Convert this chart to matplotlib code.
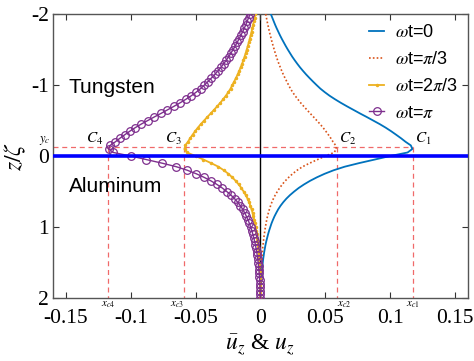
import numpy as np
import matplotlib
matplotlib.use("Agg")
import matplotlib.pyplot as plt

plt.rcParams['mathtext.fontset'] = 'stix'
plt.rcParams['font.family'] = ['Liberation Serif', 'DejaVu Serif']

# depth grid z/zeta
z = np.arange(-2.0, 2.0001, 0.05)

u_wt0 = [
    0.0080, 0.0091, 0.0102, 0.0113, 0.0125, 0.0138, 0.0151, 0.0165, 0.0180, 0.0195,
    0.0211, 0.0228, 0.0245, 0.0264, 0.0284, 0.0305, 0.0328, 0.0352, 0.0378, 0.0405,
    0.0433, 0.0462, 0.0496, 0.0533, 0.0575, 0.0620, 0.0668, 0.0718, 0.0768, 0.0820,
    0.0870, 0.0920, 0.0966, 0.1008, 0.1047, 0.1085, 0.1120, 0.1160, 0.1172, 0.1135,
    0.1000, 0.0880, 0.0760, 0.0650, 0.0565, 0.0495, 0.0435, 0.0382, 0.0336, 0.0295,
    0.0260, 0.0228, 0.0200, 0.0176, 0.0155, 0.0137, 0.0122, 0.0108, 0.0096, 0.0085,
    0.0076, 0.0067, 0.0059, 0.0052, 0.0045, 0.0039, 0.0034, 0.0029, 0.0025, 0.0021,
    0.0018, 0.0015, 0.0012, 0.0010, 0.0008, 0.0006, 0.0004, 0.0003, 0.0002, 0.0001,
    0.0000]

u_wt_pi3 = [
    0.0040, 0.0046, 0.0051, 0.0057, 0.0063, 0.0069, 0.0076, 0.0083, 0.0090, 0.0098,
    0.0106, 0.0114, 0.0123, 0.0132, 0.0142, 0.0153, 0.0164, 0.0176, 0.0189, 0.0203,
    0.0217, 0.0231, 0.0248, 0.0267, 0.0288, 0.0310, 0.0334, 0.0359, 0.0384, 0.0410,
    0.0435, 0.0460, 0.0483, 0.0504, 0.0524, 0.0543, 0.0560, 0.0580, 0.0586, 0.0568,
    0.0500, 0.0440, 0.0380, 0.0325, 0.0283, 0.0248, 0.0218, 0.0191, 0.0168, 0.0148,
    0.0130, 0.0114, 0.0100, 0.0088, 0.0078, 0.0069, 0.0061, 0.0054, 0.0048, 0.0043,
    0.0038, 0.0034, 0.0030, 0.0026, 0.0023, 0.0020, 0.0017, 0.0015, 0.0013, 0.0011,
    0.0009, 0.0008, 0.0006, 0.0005, 0.0004, 0.0003, 0.0002, 0.0002, 0.0001, 0.0001,
    0.0000]

u_wt_2pi3 = [
    -0.0040, -0.0046, -0.0051, -0.0057, -0.0063, -0.0069, -0.0076, -0.0083, -0.0090, -0.0098,
    -0.0106, -0.0114, -0.0123, -0.0132, -0.0142, -0.0153, -0.0164, -0.0176, -0.0189, -0.0203,
    -0.0217, -0.0231, -0.0248, -0.0267, -0.0288, -0.0310, -0.0334, -0.0359, -0.0384, -0.0410,
    -0.0435, -0.0460, -0.0483, -0.0504, -0.0524, -0.0543, -0.0560, -0.0580, -0.0586, -0.0568,
    -0.0500, -0.0440, -0.0380, -0.0325, -0.0283, -0.0248, -0.0218, -0.0191, -0.0168, -0.0148,
    -0.0130, -0.0114, -0.0100, -0.0088, -0.0078, -0.0069, -0.0061, -0.0054, -0.0048, -0.0043,
    -0.0038, -0.0034, -0.0030, -0.0026, -0.0023, -0.0020, -0.0017, -0.0015, -0.0013, -0.0011,
    -0.0009, -0.0008, -0.0006, -0.0005, -0.0004, -0.0003, -0.0002, -0.0002, -0.0001, -0.0001,
    0.0000]

u_wt_pi = [
    -0.0080, -0.0091, -0.0102, -0.0113, -0.0125, -0.0138, -0.0151, -0.0165, -0.0180, -0.0195,
    -0.0211, -0.0228, -0.0245, -0.0264, -0.0284, -0.0305, -0.0328, -0.0352, -0.0378, -0.0405,
    -0.0433, -0.0462, -0.0496, -0.0533, -0.0575, -0.0620, -0.0668, -0.0718, -0.0768, -0.0820,
    -0.0870, -0.0920, -0.0966, -0.1008, -0.1047, -0.1085, -0.1120, -0.1160, -0.1172, -0.1135,
    -0.1000, -0.0880, -0.0760, -0.0650, -0.0565, -0.0495, -0.0435, -0.0382, -0.0336, -0.0295,
    -0.0260, -0.0228, -0.0200, -0.0176, -0.0155, -0.0137, -0.0122, -0.0108, -0.0096, -0.0085,
    -0.0076, -0.0067, -0.0059, -0.0052, -0.0045, -0.0039, -0.0034, -0.0029, -0.0025, -0.0021,
    -0.0018, -0.0015, -0.0012, -0.0010, -0.0008, -0.0006, -0.0004, -0.0003, -0.0002, -0.0001,
    0.0000]

series_labels = [r'$\omega$t=0', r'$\omega$t=$\pi$/3', r'$\omega$t=2$\pi$/3', r'$\omega$t=$\pi$']

# critical points
xc = [0.1175, 0.0587, -0.0587, -0.1175]
yc = -0.125
c_labels = [r'$C_1$', r'$C_2$', r'$C_3$', r'$C_4$']
xc_labels = [r'$x_{c1}$', r'$x_{c2}$', r'$x_{c3}$', r'$x_{c4}$']

xticks = [-0.15, -0.1, -0.05, 0, 0.05, 0.1, 0.15]
xticklabels = ['-0.15', '-0.1', '-0.05', '0', '0.05', '0.1', '0.15']
yticks = [-2, -1, 0, 1, 2]
yticklabels = ['-2', '-1', '0', '1', '2']

fig = plt.figure(figsize=(4.74, 3.61), dpi=100)
ax = fig.add_axes([0.112, 0.1745, 0.875, 0.7865])

xmin, xmax = -0.16, 0.16
ax.set_xlim(xmin, xmax)
ax.set_ylim(2, -2)

# reference lines
ax.axvline(0, color='black', lw=1.0, zorder=1)
dash_col = '#F06A6A'
ax.plot([xmin, xc[0]], [yc, yc], color=dash_col, lw=0.9, ls=(0, (4, 3)), zorder=1)
for x in xc:
    ax.plot([x, x], [yc, 2], color=dash_col, lw=0.9, ls=(0, (4, 3)), zorder=1)

ax.plot(u_wt0, z, color='#0072BD', lw=1.3, label=series_labels[0], zorder=3)
ax.plot(u_wt_pi3, z, color='#D95319', lw=1.2, ls=(0, (1, 1.3)), label=series_labels[1], zorder=3)
ax.plot(u_wt_2pi3, z, color='#EDB120', lw=1.3, marker='.', ms=3, label=series_labels[2], zorder=3)
ax.plot(u_wt_pi, z, color='#7E2F8E', lw=1.0, marker='o', ms=5.5, mfc='none', mew=0.9,
        label=series_labels[3], zorder=3)

ax.axhline(0, color='#0000FF', lw=2.6, zorder=4)

# labels of critical points
ax.text(xc[0] + 0.002, yc, c_labels[0], ha='left', va='bottom', fontsize=11)
ax.text(xc[1] + 0.002, yc, c_labels[1], ha='left', va='bottom', fontsize=11)
ax.text(xc[2] - 0.002, yc, c_labels[2], ha='right', va='bottom', fontsize=11)
ax.text(xc[3] - 0.004, yc, c_labels[3], ha='right', va='bottom', fontsize=11)
ax.text(xmin - 0.002, yc, r'$y_c$', ha='right', va='bottom', fontsize=9, clip_on=False)

ax.text(xc[0], 2.015, xc_labels[0], ha='center', va='top', fontsize=8, clip_on=False)
ax.text(xc[1], 2.015, xc_labels[1], ha='left', va='top', fontsize=8, clip_on=False)
ax.text(xc[2], 2.015, xc_labels[2], ha='right', va='top', fontsize=8, clip_on=False)
ax.text(xc[3], 2.015, xc_labels[3], ha='center', va='top', fontsize=8, clip_on=False)

ax.text(-0.148, -0.96, 'Tungsten', family='Liberation Sans', fontsize=15, ha='left', va='center')
ax.text(-0.148, 0.43, 'Aluminum', family='Liberation Sans', fontsize=15, ha='left', va='center')

ax.set_xticks(xticks)
ax.set_xticklabels(xticklabels)
ax.set_yticks(yticks)
ax.set_yticklabels(yticklabels)
ax.tick_params(direction='in', top=True, right=True, length=4, width=0.8,
               labelsize=15.5, colors='#333333', labelcolor='black', pad=3)
ax.tick_params(axis='x', pad=8)
for s in ax.spines.values():
    s.set_color('#555555')
    s.set_linewidth(1.0)

ax.set_xlabel(r'$\bar{u}_z$ & $u_z$', fontsize=17, labelpad=3)
ax.set_ylabel(r'$z/\zeta$', fontsize=17, labelpad=2)

leg = ax.legend(loc='upper right', bbox_to_anchor=(1.0, 1.0), frameon=False,
                prop={'family': 'Liberation Sans', 'size': 13}, handlelength=0.8,
                handletextpad=0.6, labelspacing=0.55, borderaxespad=0.15)

fig.savefig('out.png', dpi=100)
